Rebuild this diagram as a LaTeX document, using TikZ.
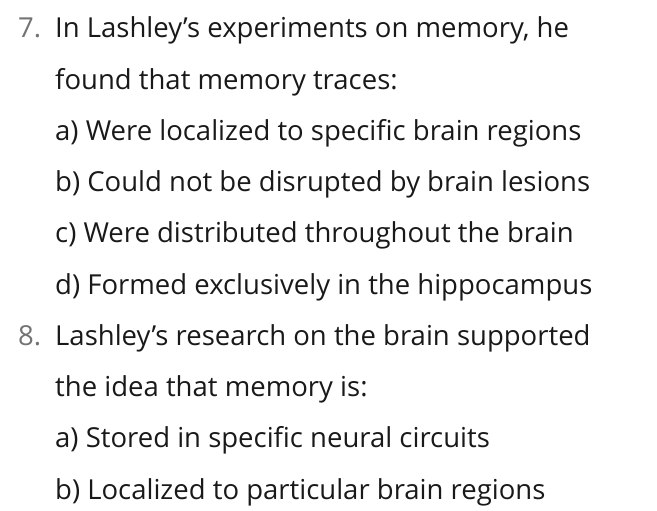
\documentclass[tikz,border=0pt]{standalone}
\usepackage{fontspec}
\setmainfont{Open Sans}
\newcommand{\ap}{{\char39}}
\begin{document}
\begin{tikzpicture}[x=1pt,y=-1pt,
 txt/.style={anchor=base west,inner sep=0pt,font=\fontsize{27.5}{32}\selectfont,text=black!90},
 num/.style={txt,text=black!55}]
\useasboundingbox (0,0) rectangle (657,511);
\node[num] (n7) at (18,38) {7.};
\node[txt] (l1) at (55,38) {In Lashley\ap s experiments on memory, he};
\node[txt] (l2) at (55,90) {found that memory traces:};
\node[txt] (l3) at (55,140) {a) Were localized to specific brain regions};
\node[txt] (l4) at (55,192) {b) Could not be disrupted by brain lesions};
\node[txt] (l5) at (55,242) {c) Were distributed throughout the brain};
\node[txt] (l6) at (55,294) {d) Formed exclusively in the hippocampus};
\node[num] (n8) at (18,345) {8.};
\node[txt] (l7) at (55,345) {Lashley\ap s research on the brain supported};
\node[txt] (l8) at (55,396) {the idea that memory is:};
\node[txt] (l9) at (55,447) {a) Stored in specific neural circuits};
\node[txt] (l10) at (55,499) {b) Localized to particular brain regions};
\end{tikzpicture}
\end{document}
